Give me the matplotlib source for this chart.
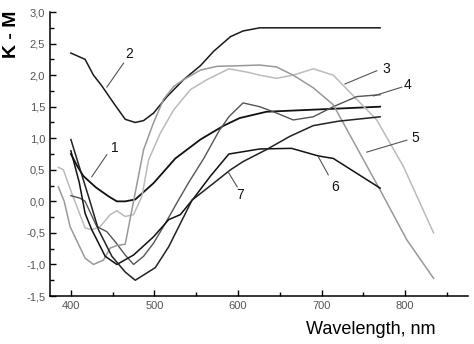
import matplotlib
matplotlib.use("Agg")
import matplotlib.pyplot as plt
from matplotlib.ticker import MultipleLocator, FuncFormatter

plt.rcParams['font.family'] = ['Liberation Sans', 'DejaVu Sans']

# curve data (wavelength nm, K-M)
wl1 = [400, 408, 415, 430, 445, 455, 465, 477, 499, 525, 555, 583, 602, 634, 770]
km1 = [0.75, 0.55, 0.40, 0.22, 0.08, 0.0, 0.0, 0.03, 0.29, 0.68, 0.98, 1.20, 1.32, 1.42, 1.50]

wl2 = [400, 417, 427, 437, 451, 465, 477, 487, 499, 515, 535, 555, 571, 591, 606, 626, 770]
km2 = [2.35, 2.25, 2.0, 1.83, 1.56, 1.30, 1.25, 1.28, 1.40, 1.66, 1.93, 2.15, 2.38, 2.61, 2.70, 2.75, 2.75]

wl3 = [385, 391, 401, 417, 425, 435, 447, 455, 465, 475, 485, 493, 507, 523, 543, 563,
       589, 610, 626, 646, 666, 690, 714, 766, 798, 834]
km3 = [0.54, 0.50, 0.13, -0.42, -0.45, -0.40, -0.21, -0.15, -0.24, -0.21, 0.08, 0.66, 1.08,
       1.45, 1.77, 1.93, 2.10, 2.05, 2.0, 1.95, 2.0, 2.10, 2.0, 1.29, 0.55, -0.50]

wl4 = [400, 411, 417, 431, 443, 453, 465, 475, 487, 499, 513, 527, 541, 559, 577, 589,
       606, 626, 646, 666, 690, 714, 742, 770]
km4 = [0.09, 0.05, 0.0, -0.40, -0.48, -0.64, -0.85, -1.0, -0.87, -0.66, -0.35, -0.02, 0.30,
       0.68, 1.11, 1.34, 1.56, 1.50, 1.40, 1.29, 1.34, 1.50, 1.66, 1.69]

wl5 = [385, 392, 399, 417, 427, 439, 447, 455, 465, 487, 499, 511, 523, 535, 555, 575,
       603, 626, 646, 666, 690, 714, 770, 802, 834]
km5 = [0.23, 0.0, -0.40, -0.90, -1.0, -0.93, -0.74, -0.70, -0.68, 0.82, 1.25, 1.62, 1.82,
       1.93, 2.08, 2.14, 2.15, 2.16, 2.13, 2.0, 1.8, 1.53, 0.18, -0.61, -1.22]

wl6 = [400, 410, 417, 425, 441, 455, 475, 499, 517, 531, 547, 567, 589, 626, 664, 696, 714, 770]
km6 = [0.80, 0.30, -0.19, -0.45, -0.87, -1.0, -0.85, -0.56, -0.29, -0.21, 0.05, 0.40, 0.75,
       0.83, 0.84, 0.72, 0.68, 0.21]

wl7 = [400, 410, 421, 433, 449, 465, 477, 501, 517, 531, 545, 571, 591, 606, 634, 662, 690, 720, 770]
km7 = [0.98, 0.55, 0.08, -0.45, -0.87, -1.12, -1.25, -1.05, -0.72, -0.35, 0.02, 0.29, 0.50,
       0.63, 0.82, 1.03, 1.20, 1.27, 1.34]

curves = [
    (wl1, km1, '#111111', 1.3),
    (wl2, km2, '#1a1a1a', 1.1),
    (wl3, km3, '#bbbbbb', 1.1),
    (wl4, km4, '#555555', 1.0),
    (wl5, km5, '#999999', 1.1),
    (wl6, km6, '#111111', 1.1),
    (wl7, km7, '#222222', 1.1),
]

fig = plt.figure(figsize=(4.74, 3.44), dpi=100)
ax = fig.add_axes([0.1055, 0.1395, 0.8815, 0.8255])

for wl, km, c, lw in curves:
    ax.plot(wl, km, color=c, lw=lw)

# curve numbers with leader lines
labels = [
    ('1', (452, 0.85), (443, 0.74), (425, 0.39)),
    ('2', (470, 2.34), (463, 2.19), (443, 1.81)),
    ('3', (777, 2.10), (766, 2.07), (728, 1.86)),
    ('4', (803, 1.85), (796, 1.81), (762, 1.67)),
    ('5', (812, 1.01), (802, 0.97), (754, 0.78)),
    ('6', (716, 0.23), (708, 0.42), (696, 0.71)),
    ('7', (603, 0.10), (599, 0.23), (588, 0.47)),
]
for txt, tpos, p0, p1 in labels:
    ax.text(tpos[0], tpos[1], txt, fontsize=10, ha='center', va='center', color='#111111')
    ax.plot([p0[0], p1[0]], [p0[1], p1[1]], color='#555555', lw=0.8)

ax.set_xlim(375, 875)
ax.set_ylim(-1.5, 3.0)
ax.spines['top'].set_visible(False)
ax.spines['right'].set_visible(False)
ax.spines['left'].set_linewidth(1.1)
ax.spines['bottom'].set_linewidth(1.1)

ax.xaxis.set_major_locator(MultipleLocator(100))
ax.xaxis.set_minor_locator(MultipleLocator(50))
ax.yaxis.set_major_locator(MultipleLocator(0.5))
ax.yaxis.set_minor_locator(MultipleLocator(0.25))
ax.yaxis.set_major_formatter(FuncFormatter(lambda v, p: f'{v:.1f}'.replace('.', ',')))
ax.set_xticks([400, 500, 600, 700, 800])
ax.tick_params(which='major', direction='in', length=4, width=1.0, labelsize=8, labelcolor='#555555')
ax.tick_params(which='minor', direction='in', length=3, width=1.0)

fig.text(0.025, 0.97, 'K - M', rotation=90, ha='center', va='top', fontsize=14, fontweight='bold')
fig.text(371 / 474, 1 - 330 / 344, 'Wavelength, nm', ha='center', va='center', fontsize=13)

fig.savefig('out.png', dpi=100)
